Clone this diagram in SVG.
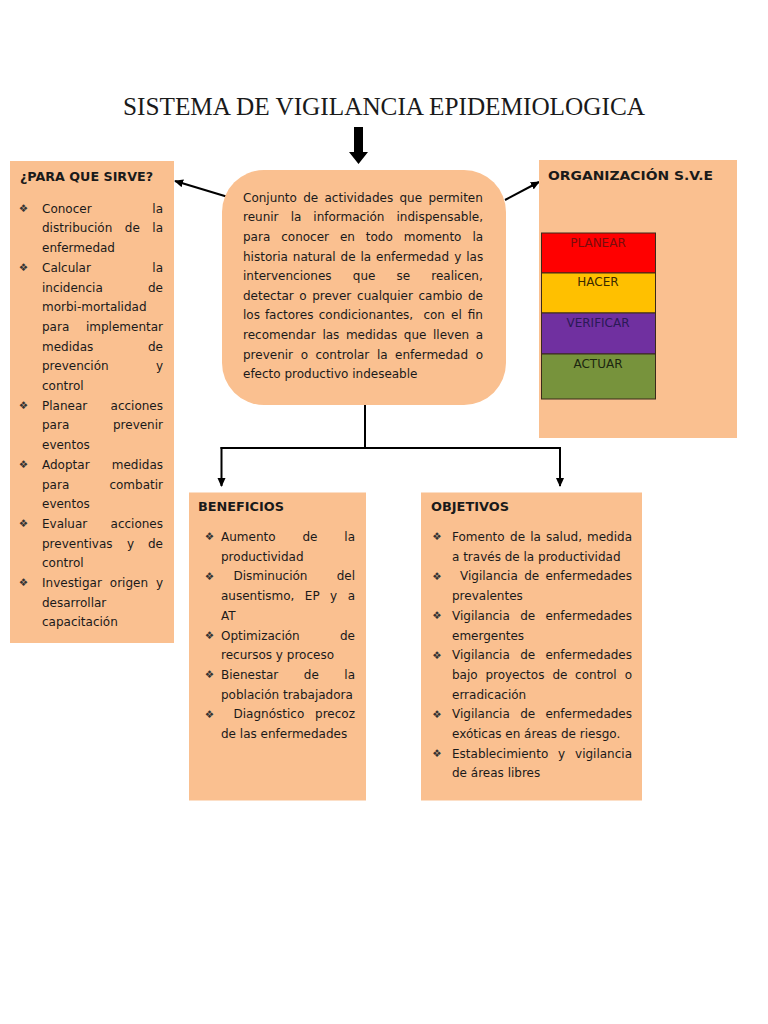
<svg xmlns="http://www.w3.org/2000/svg" width="768" height="1024" viewBox="0 0 768 1024">
<defs>
<style>
.box{fill:#FAC090}
.t{font-family:"DejaVu Sans",Verdana,sans-serif;font-size:12px;fill:#1a1a1a}
.e{text-anchor:end}
.h{font-family:"DejaVu Sans",Verdana,sans-serif;font-size:12px;font-weight:bold;fill:#1a1a1a}
.bl{font-family:"DejaVu Sans",sans-serif;font-size:10.5px;fill:#333;text-anchor:middle}
.lbl{font-family:"DejaVu Sans",Verdana,sans-serif;font-size:12px;text-anchor:middle}
.ln{stroke:#000;stroke-width:2;fill:none}
</style>
<marker id="ah" viewBox="0 0 10 10" refX="9" refY="5" markerWidth="9" markerHeight="9" markerUnits="userSpaceOnUse" orient="auto">
<path d="M0,0.5 L10,5 L0,9.5 z" fill="#000"/>
</marker>
</defs>
<rect width="768" height="1024" fill="#fff"/>

<g id="title">
<text x="123" y="115" textLength="522" lengthAdjust="spacingAndGlyphs" style="font-family:'Liberation Serif',serif;font-size:25px;fill:#1a1a1a">SISTEMA DE VIGILANCIA EPIDEMIOLOGICA</text>
</g>

<g id="connectors">
<path d="M354,127 H363 V152 H368 L358.5,164 L349,152 H354 Z" fill="#000"/>
<line class="ln" x1="228" y1="197" x2="175" y2="181" marker-end="url(#ah)"/>
<line class="ln" x1="505" y1="200" x2="539" y2="182" marker-end="url(#ah)"/>
<line class="ln" x1="365" y1="405" x2="365" y2="448"/>
<line class="ln" x1="220.5" y1="448" x2="561" y2="448"/>
<line class="ln" x1="221.5" y1="447" x2="221.5" y2="486" marker-end="url(#ah)"/>
<line class="ln" x1="560" y1="447" x2="560" y2="486" marker-end="url(#ah)"/>
<line class="ln" x1="595" y1="187" x2="595" y2="229" marker-end="url(#ah)"/>
</g>

<g id="center">
<rect class="box" x="222" y="170" width="284" height="235" rx="42" ry="42"/>
<text class="t" y="201.7"><tspan x="243">Conjunto</tspan><tspan x="303.2">de</tspan><tspan x="324.5">actividades</tspan><tspan x="399.5">que</tspan><tspan x="428.4">permiten</tspan></text>
<text class="t" y="221.3"><tspan x="243">reunir</tspan><tspan x="290.7">la</tspan><tspan x="313.3">información</tspan><tspan x="396.5">indispensable,</tspan></text>
<text class="t" y="240.9"><tspan x="243">para</tspan><tspan x="281.2">conocer</tspan><tspan x="339.9">en</tspan><tspan x="365.8">todo</tspan><tspan x="403.7">momento</tspan><tspan x="472.4">la</tspan></text>
<text class="t" y="260.5"><tspan x="243">historia</tspan><tspan x="292.8">natural</tspan><tspan x="340.6">de</tspan><tspan x="360.5">la</tspan><tspan x="376.1">enfermedad</tspan><tspan x="454.2">y</tspan><tspan x="466.2">las</tspan></text>
<text class="t" y="280.1"><tspan x="243">intervenciones</tspan><tspan x="352.8">que</tspan><tspan x="396.5">se</tspan><tspan x="431.3">realicen,</tspan></text>
<text class="t" y="299.7"><tspan x="243">detectar</tspan><tspan x="299.3">o</tspan><tspan x="312.2">prever</tspan><tspan x="357.1">cualquier</tspan><tspan x="418.5">cambio</tspan><tspan x="468">de</tspan></text>
<text class="t" y="319.3"><tspan x="243">los</tspan><tspan x="264.9">factores</tspan><tspan x="318.7">condicionantes,</tspan><tspan x="423.4">con</tspan><tspan x="451">el</tspan><tspan x="467.7">fin</tspan></text>
<text class="t" y="338.9"><tspan x="243">recomendar</tspan><tspan x="322.4">las</tspan><tspan x="345.9">medidas</tspan><tspan x="403.8">que</tspan><tspan x="433">lleven</tspan><tspan x="475.7">a</tspan></text>
<text class="t" y="358.5"><tspan x="243">prevenir</tspan><tspan x="300.7">o</tspan><tspan x="315.4">controlar</tspan><tspan x="377">la</tspan><tspan x="395.1">enfermedad</tspan><tspan x="475.7">o</tspan></text>
<text class="t" x="243" y="378.1">efecto productivo indeseable</text>
</g>

<g id="para-que-sirve">
<rect class="box" x="10" y="161" width="164" height="482"/>
<text class="h" x="20" y="181" textLength="133" lengthAdjust="spacingAndGlyphs">¿PARA QUE SIRVE?</text>
<text class="bl" x="23.5" y="212">❖</text>
<text class="t" x="42" y="212.7">Conocer</text><text class="t e" x="163" y="212.7">la</text>
<text class="t" y="232.4"><tspan x="42">distribución</tspan><tspan x="124.8">de</tspan></text><text class="t e" x="163" y="232.4">la</text>
<text class="t" x="42" y="252.1">enfermedad</text>
<text class="bl" x="23.5" y="271.1">❖</text>
<text class="t" x="42" y="271.8">Calcular</text><text class="t e" x="163" y="271.8">la</text>
<text class="t" x="42" y="291.5">incidencia</text><text class="t e" x="163" y="291.5">de</text>
<text class="t" x="42" y="311.2">morbi-mortalidad</text>
<text class="t" x="42" y="330.9">para</text><text class="t e" x="163" y="330.9">implementar</text>
<text class="t" x="42" y="350.6">medidas</text><text class="t e" x="163" y="350.6">de</text>
<text class="t" x="42" y="370.3">prevención</text><text class="t e" x="163" y="370.3">y</text>
<text class="t" x="42" y="390">control</text>
<text class="bl" x="23.5" y="409">❖</text>
<text class="t" x="42" y="409.7">Planear</text><text class="t e" x="163" y="409.7">acciones</text>
<text class="t" x="42" y="429.4">para</text><text class="t e" x="163" y="429.4">prevenir</text>
<text class="t" x="42" y="449.1">eventos</text>
<text class="bl" x="23.5" y="468.1">❖</text>
<text class="t" x="42" y="468.8">Adoptar</text><text class="t e" x="163" y="468.8">medidas</text>
<text class="t" x="42" y="488.5">para</text><text class="t e" x="163" y="488.5">combatir</text>
<text class="t" x="42" y="508.2">eventos</text>
<text class="bl" x="23.5" y="527.2">❖</text>
<text class="t" x="42" y="527.9">Evaluar</text><text class="t e" x="163" y="527.9">acciones</text>
<text class="t" y="547.6"><tspan x="42">preventivas</tspan><tspan x="126.9">y</tspan></text><text class="t e" x="163" y="547.6">de</text>
<text class="t" x="42" y="567.3">control</text>
<text class="bl" x="23.5" y="586.3">❖</text>
<text class="t" y="587"><tspan x="42">Investigar</tspan><tspan x="109.8">origen</tspan></text><text class="t e" x="163" y="587">y</text>
<text class="t" x="42" y="606.7">desarrollar</text>
<text class="t" x="42" y="626.4">capacitación</text>
</g>

<g id="organizacion">
<rect class="box" x="539" y="160" width="198" height="278"/>
<text class="h" x="548" y="180" textLength="165" lengthAdjust="spacingAndGlyphs" style="font-size:13px">ORGANIZACIÓN S.V.E</text>
<g stroke="#3b2a1a" stroke-width="1">
<rect x="541.5" y="233" width="114" height="40" fill="#FF0000"/>
<rect x="541.5" y="273" width="114" height="40" fill="#FFC000"/>
<rect x="541.5" y="313" width="114" height="41" fill="#7030A0"/>
<rect x="541.5" y="354" width="114" height="45" fill="#77933C"/>
</g>
<text class="lbl" x="598" y="247" style="fill:#7a0c0c">PLANEAR</text>
<text class="lbl" x="598" y="286" style="fill:#3a2a00">HACER</text>
<text class="lbl" x="598" y="327" style="fill:#2a1a55">VERIFICAR</text>
<text class="lbl" x="598" y="368" style="fill:#1c2610">ACTUAR</text>
</g>

<g id="beneficios">
<rect class="box" x="189" y="492.5" width="177" height="308"/>
<text class="h" x="198" y="511" textLength="86" lengthAdjust="spacingAndGlyphs">BENEFICIOS</text>
<text class="bl" x="209.5" y="540.3">❖</text>
<text class="t" y="541"><tspan x="221">Aumento</tspan><tspan x="302.4">de</tspan></text><text class="t e" x="355" y="541">la</text>
<text class="t" x="221" y="560.7">productividad</text>
<text class="bl" x="209.5" y="579.7">❖</text>
<text class="t" x="233.5" y="580.4">Disminución</text><text class="t e" x="355" y="580.4">del</text>
<text class="t" y="600.1"><tspan x="221">ausentismo,</tspan><tspan x="304.8">EP</tspan><tspan x="330.1">y</tspan><tspan x="347.7">a</tspan></text>
<text class="t" x="221" y="619.8">AT</text>
<text class="bl" x="209.5" y="638.8">❖</text>
<text class="t" x="221" y="639.5">Optimización</text><text class="t e" x="355" y="639.5">de</text>
<text class="t" x="221" y="659.2">recursos y proceso</text>
<text class="bl" x="209.5" y="678.2">❖</text>
<text class="t" y="678.9"><tspan x="221">Bienestar</tspan><tspan x="303.8">de</tspan></text><text class="t e" x="355" y="678.9">la</text>
<text class="t" x="221" y="698.6">población trabajadora</text>
<text class="bl" x="209.5" y="717.6">❖</text>
<text class="t" x="233.5" y="718.3">Diagnóstico</text><text class="t e" x="355" y="718.3">precoz</text>
<text class="t" x="221" y="738">de las enfermedades</text>
</g>

<g id="objetivos">
<rect class="box" x="421" y="492.5" width="221" height="308"/>
<text class="h" x="431" y="511" textLength="78" lengthAdjust="spacingAndGlyphs">OBJETIVOS</text>
<text class="bl" x="437" y="540.3">❖</text>
<text class="t" y="541"><tspan x="452">Fomento</tspan><tspan x="510.1">de</tspan><tspan x="530.2">la</tspan><tspan x="546">salud,</tspan></text><text class="t e" x="632" y="541">medida</text>
<text class="t" x="452" y="560.7">a través de la productividad</text>
<text class="bl" x="437" y="579.7">❖</text>
<text class="t" y="580.4"><tspan x="460">Vigilancia</tspan><tspan x="524.2">de</tspan></text><text class="t e" x="632" y="580.4">enfermedades</text>
<text class="t" x="452" y="600.1">prevalentes</text>
<text class="bl" x="437" y="619.1">❖</text>
<text class="t" y="619.8"><tspan x="452">Vigilancia</tspan><tspan x="520.2">de</tspan></text><text class="t e" x="632" y="619.8">enfermedades</text>
<text class="t" x="452" y="639.5">emergentes</text>
<text class="bl" x="437" y="658.5">❖</text>
<text class="t" y="659.2"><tspan x="452">Vigilancia</tspan><tspan x="520.2">de</tspan></text><text class="t e" x="632" y="659.2">enfermedades</text>
<text class="t" y="678.9"><tspan x="452">bajo</tspan><tspan x="485.4">proyectos</tspan><tspan x="552.4">de</tspan><tspan x="575.1">control</tspan></text><text class="t e" x="632" y="678.9">o</text>
<text class="t" x="452" y="698.6">erradicación</text>
<text class="bl" x="437" y="717.6">❖</text>
<text class="t" y="718.3"><tspan x="452">Vigilancia</tspan><tspan x="520.2">de</tspan></text><text class="t e" x="632" y="718.3">enfermedades</text>
<text class="t" x="452" y="738">exóticas en áreas de riesgo.</text>
<text class="bl" x="437" y="757">❖</text>
<text class="t" y="757.7"><tspan x="452">Establecimiento</tspan><tspan x="558">y</tspan></text><text class="t e" x="632" y="757.7">vigilancia</text>
<text class="t" x="452" y="777.4">de áreas libres</text>
</g>
</svg>
